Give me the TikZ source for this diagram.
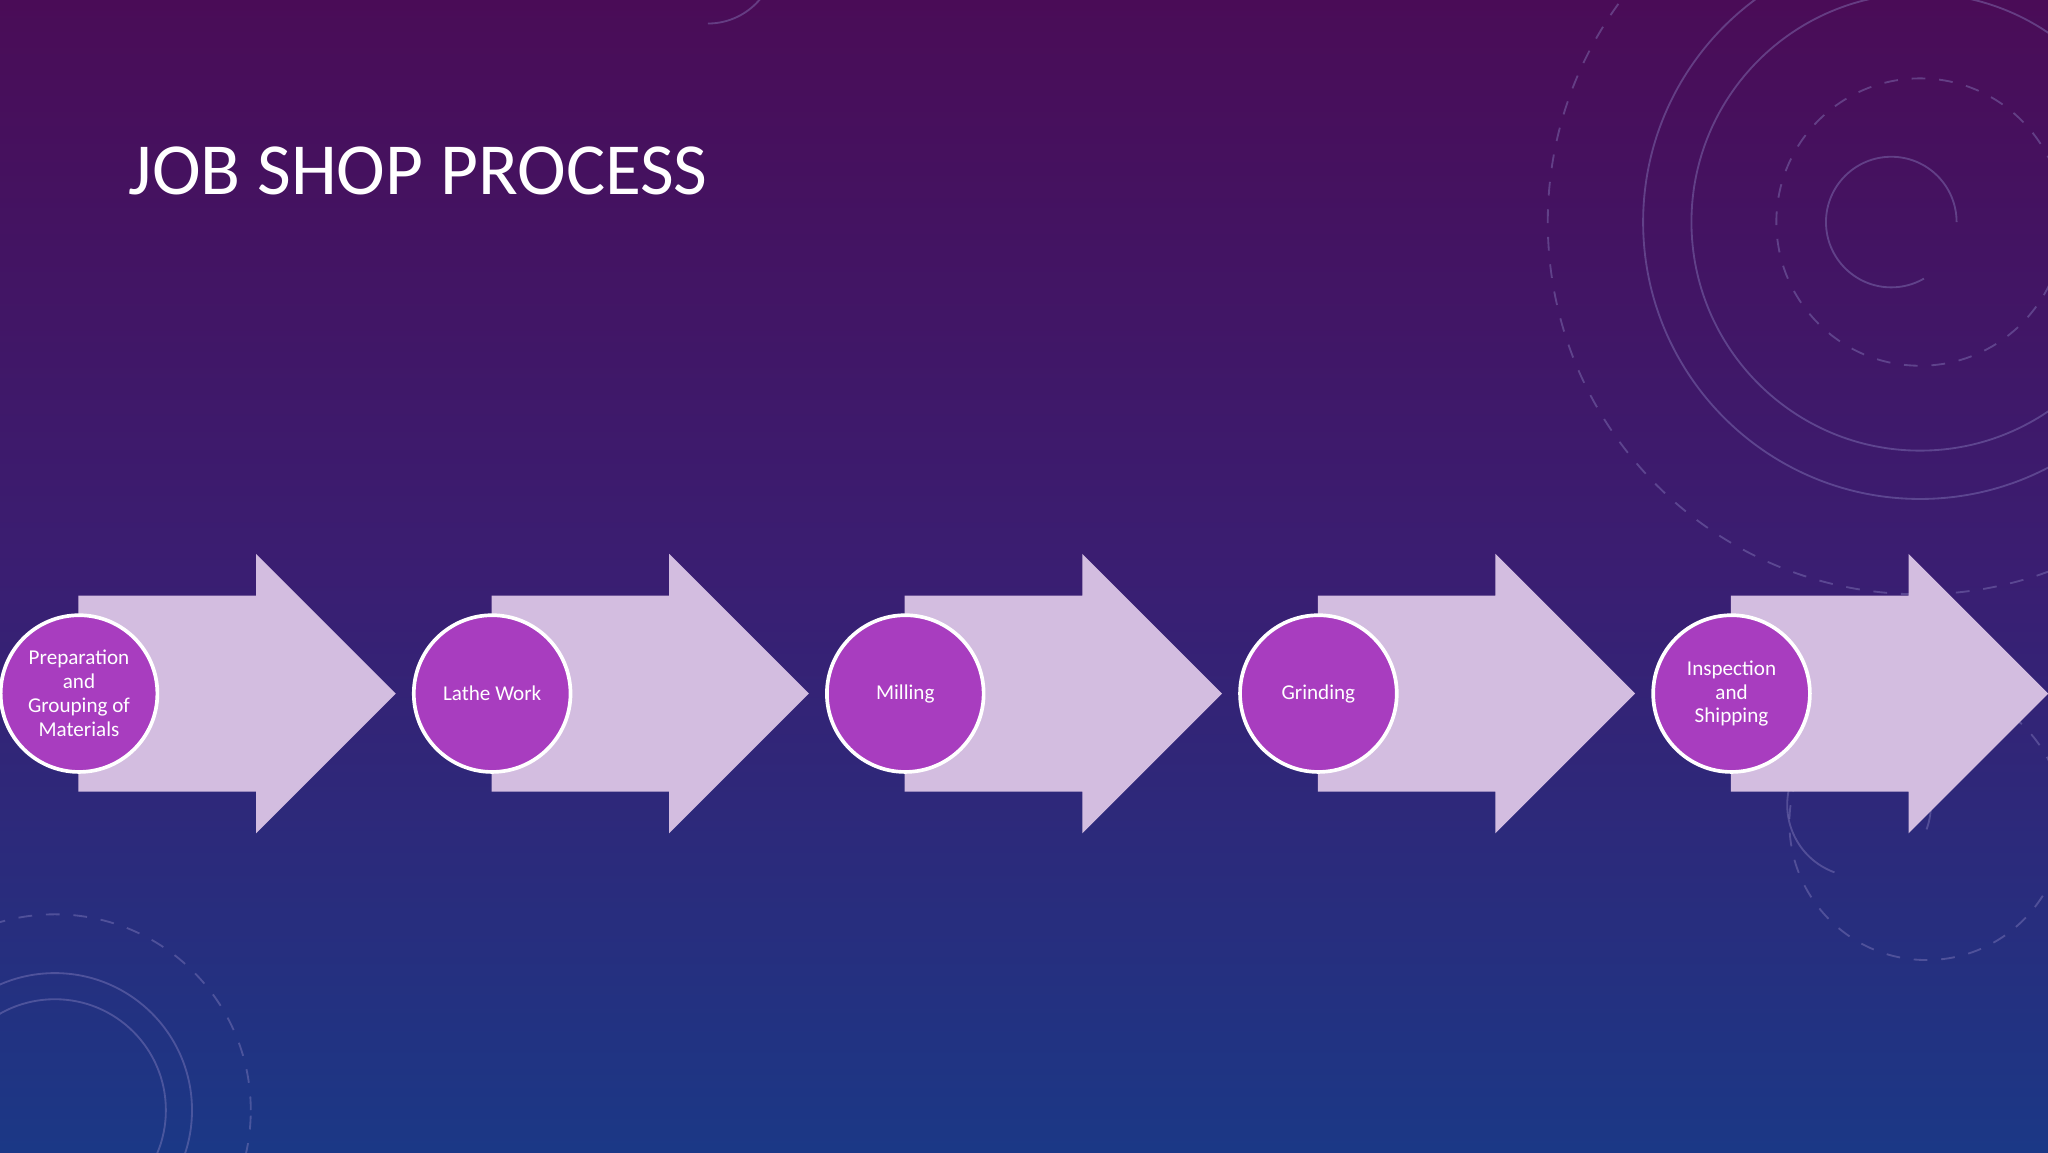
\documentclass[tikz,border=0pt]{standalone}
\usepackage{fontspec}
\setmainfont{Carlito}
\usetikzlibrary{shapes.geometric}
\definecolor{bgtop}{HTML}{4A0C57}
\definecolor{bgmid}{HTML}{3A1E72}
\definecolor{bgbot}{HTML}{1B3886}
\definecolor{arrowc}{HTML}{D3BDE0}
\definecolor{circc}{HTML}{A83DBF}
\definecolor{deco}{HTML}{8E86C4}
\tikzset{
  steparrow/.style={fill=arrowc,draw=none},
  stepcirc/.style={circle,fill=circc,draw=white,line width=0.8pt,minimum size=1.2cm,inner sep=0pt,text=white,font=\fontsize{4.6pt}{5.2pt}\selectfont,align=center},
  decoline/.style={draw=deco,opacity=0.4,line width=0.4pt},
}
\begin{document}
\begin{tikzpicture}[x=1cm,y=1cm]
\useasboundingbox (0,0) rectangle (15.68,-8.82);
\shade[top color=bgtop,bottom color=bgbot,middle color=bgmid] (0,0) rectangle (15.68,-8.82);
% decorations
\begin{scope}
\clip (0,0) rectangle (15.68,-8.82);
\draw[decoline] (5.42,-0.18) arc (-90:200:0.52);
\draw[decoline] (14.98,-1.7) arc (0:300:0.5);
\draw[decoline] (14.7,-1.7) circle (2.12);
\draw[decoline] (14.7,-1.7) circle (1.75);
\draw[decoline,dashed] (14.7,-1.7) circle (1.1);
\draw[decoline,dashed] (14.7,-1.7) circle (2.85);
\draw[decoline] (14.75,-6.35) arc (-20:250:0.55);
\draw[decoline,dashed] (14.75,-6.3) circle (1.05);
\draw[decoline] (0.42,-8.5) circle (0.85);
\draw[decoline] (0.42,-8.5) circle (1.05);
\draw[decoline,dashed] (0.42,-8.5) circle (1.5);
\end{scope}
% title
\node[anchor=west,text=white,font=\fontsize{16pt}{18pt}\selectfont,inner sep=0pt] (title) at (0.98,-1.31) {JOB SHOP PROCESS};
% arrows and circles
\foreach \i/\lab in {0/{Preparation\\and\\Grouping of\\Materials},1/{Lathe Work},2/{Milling},3/{Grinding},4/{Inspection\\and\\Shipping}}{
  \begin{scope}[xshift=\i*3.163cm]
  \fill[steparrow] (0.60,-4.56) -- (1.96,-4.56) -- (1.96,-4.24) -- (3.03,-5.31) -- (1.96,-6.38) -- (1.96,-6.06) -- (0.60,-6.06) -- cycle;
  \node[stepcirc] (c\i) at (0.605,-5.31) {\lab};
  \end{scope}
}
\end{tikzpicture}
\end{document}
